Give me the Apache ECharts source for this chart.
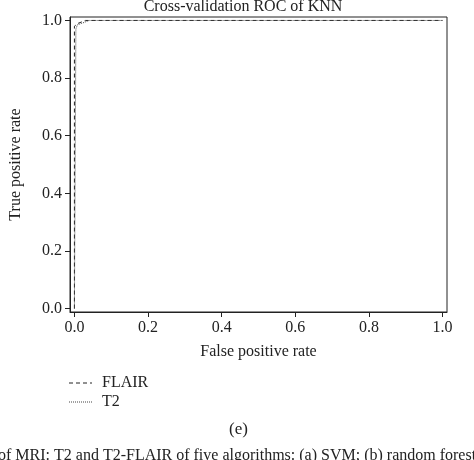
<!DOCTYPE html>
<html><head><meta charset="utf-8">
<script src="https://cdn.jsdelivr.net/npm/echarts@6/dist/echarts.min.js"></script>
<style>html,body{margin:0;padding:0;background:#fff}#c{width:474px;height:460px}</style>
</head><body><div id="c"></div>
<script>
const flairFpr = [0, 0, 0.005, 0.01, 0.03, 0.1, 1];
const flairTpr = [0, 0.98, 0.985, 0.99, 1.0, 1.0, 1.0];
const t2Fpr = [0, 0.004, 0.008, 0.02, 0.04, 1];
const t2Tpr = [0, 0.97, 0.985, 0.99, 1.0, 1.0];
const ticks = [0, 0.2, 0.4, 0.6, 0.8, 1.0];
const F = 'Liberation Serif';
const chart = echarts.init(document.getElementById('c'));
const ax = (name, gap) => ({
  type: 'value', min: -0.012, max: 1.012, name, nameLocation: 'middle', nameGap: gap,
  nameTextStyle: {fontFamily: F, fontSize: 16, color: '#222'},
  axisLine: {show: true, onZero: false, lineStyle: {color: '#222', width: 1}},
  axisTick: {show: true, inside: false, length: 5, customValues: ticks, lineStyle: {color: '#222'}},
  axisLabel: {customValues: ticks, formatter: v => v.toFixed(1), fontFamily: F, fontSize: 16, color: '#222', margin: 8},
  splitLine: {show: false}
});
chart.setOption({
  animation: false,
  title: {text: 'Cross-validation ROC of KNN', left: 238, textAlign: 'center', top: -6,
    textStyle: {fontFamily: F, fontSize: 16, fontWeight: 'normal', color: '#222'}},
  grid: {left: 70, right: 27, top: 17, bottom: 148, show: true, borderColor: '#222', borderWidth: 1},
  xAxis: ax('False positive rate', 32),
  yAxis: ax('True positive rate', 46),
  series: [
    {name: 'FLAIR', type: 'line', showSymbol: false, data: flairFpr.map((x,i)=>[x, flairTpr[i]]),
     lineStyle: {type: [4,3], color: '#222', width: 1}},
    {name: 'T2', type: 'line', showSymbol: false, data: t2Fpr.map((x,i)=>[x, t2Tpr[i]]),
     lineStyle: {type: [1,1], color: '#444', width: 1}}
  ],
  graphic: [
    {type: 'line', shape: {x1: 69, y1: 383, x2: 92, y2: 383}, style: {stroke: '#222', lineWidth: 1, lineDash: [4,3]}},
    {type: 'text', x: 102, y: 375, style: {text: 'FLAIR', font: '16px "Liberation Serif"', fill: '#222'}},
    {type: 'line', shape: {x1: 69, y1: 402, x2: 92, y2: 402}, style: {stroke: '#444', lineWidth: 1, lineDash: [1,1]}},
    {type: 'text', x: 102, y: 394, style: {text: 'T2', font: '16px "Liberation Serif"', fill: '#222'}},
    {type: 'text', x: 229, y: 421, style: {text: '(e)', font: '17px "Liberation Serif"', fill: '#222'}},
    {type: 'text', x: -2, y: 448, style: {text: 'of MRI: T2 and T2-FLAIR of five algorithms: (a) SVM; (b) random forest', font: '16px "Liberation Serif"', fill: '#222'}}
  ]
});
</script></body></html>
